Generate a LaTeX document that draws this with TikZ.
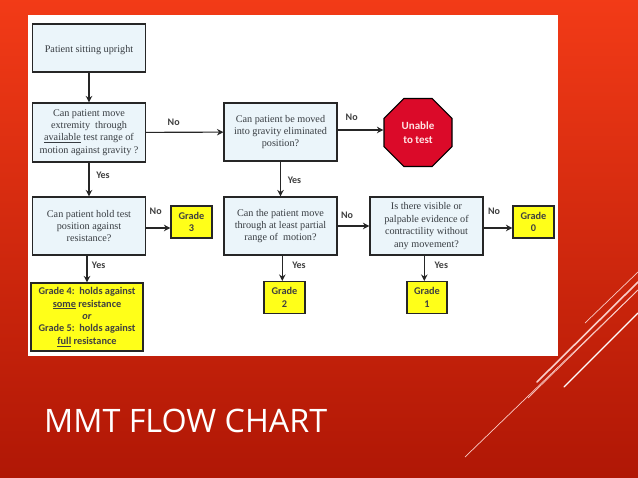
\documentclass[tikz,border=0pt]{standalone}
\usepackage{fontspec}
\setmainfont{Liberation Serif}
\newfontfamily\labelfont{Carlito}
\newfontfamily\titlefont{Open Sans}
\usetikzlibrary{arrows.meta,shapes.geometric}
\definecolor{BgHighClr}{rgb}{0.95,0.23,0.09}
\definecolor{BgMidClr}{rgb}{0.80,0.13,0.05}
\definecolor{BgLowClr}{rgb}{0.69,0.09,0.02}
\definecolor{BoxClr}{rgb}{0.92,0.96,0.98}
\definecolor{GradeClr}{rgb}{1,1,0.10}
\definecolor{StopClr}{rgb}{0.86,0.04,0.16}
\definecolor{TextClr}{rgb}{0.22,0.24,0.26}
\definecolor{LineClr}{rgb}{0.15,0.15,0.15}
\definecolor{SlashClr}{rgb}{0.98,0.80,0.78}
\tikzset{
  qbox/.style={draw=LineClr,line width=1.1pt,fill=BoxClr,align=center,text=TextClr,
    font=\fontsize{10.2}{12.4}\selectfont,inner sep=0pt,minimum width=113pt,
    execute at begin node={\rule{0pt}{12pt}}},
  gradebox/.style={draw=LineClr,line width=1.1pt,fill=GradeClr,align=center,text=black!75,
    font=\labelfont\bfseries\fontsize{10.3}{12.4}\selectfont,inner sep=0pt},
  flowlabel/.style={text=black!75,font=\labelfont\bfseries\fontsize{10}{11}\selectfont,inner sep=0pt},
  flow/.style={draw=LineClr,line width=1.1pt,-{Stealth[length=6.5pt,width=6.5pt]}},
  slash/.style={draw=SlashClr,line cap=round}
}

\begin{document}
\begin{tikzpicture}[x=1pt,y=-1pt]
\useasboundingbox (0,0) rectangle (638,478);
\shade[top color=BgHighClr,middle color=BgMidClr,bottom color=BgLowClr] (0,0) rectangle (638,478);
\fill[white] (28,15) rectangle (558,356);

\node[qbox,minimum height=48pt] (start) at (89,48) {Patient sitting upright};
\node[qbox,minimum height=59pt] (movebox) at (89,132.5) {Can patient move\\extremity\ \ through\\\underline{available} test range of\\motion against gravity ?};
\node[qbox,minimum height=58pt] (holdbox) at (89,226) {Can patient hold test\\position against\\resistance?};
\node[qbox,minimum height=58pt] (gravbox) at (280.5,132) {Can patient be moved\\into gravity eliminated\\position?};
\node[qbox,minimum height=58pt] (partbox) at (280.5,226) {Can the patient move\\through at least partial\\range of\ \ motion?};
\node[qbox,minimum height=58pt] (palpbox) at (426.5,226) {Is there visible or\\palpable evidence of\\contractility without\\any movement?};

\node[gradebox,minimum width=112pt,minimum height=68pt] (gradetop) at (87,317) {Grade 4:\ \ holds against\\\underline{some} resistance\\\textit{or}\\Grade 5:\ \ holds against\\\underline{full} resistance};
\node[gradebox,minimum width=41pt,minimum height=32pt] (gradethree) at (191.5,222) {Grade\\3};
\node[gradebox,minimum width=41pt,minimum height=32pt] (gradetwo) at (284.5,297.5) {Grade\\2};
\node[gradebox,minimum width=40pt,minimum height=32pt] (gradeone) at (427,297.5) {Grade\\1};
\node[gradebox,minimum width=41pt,minimum height=32pt] (gradezero) at (533.5,222) {Grade\\0};
\node[regular polygon,regular polygon sides=8,minimum size=73.6pt,
  draw=black,line width=1.1pt,fill=StopClr,text=white!90!red,align=center,inner sep=0pt,
  font=\labelfont\bfseries\fontsize{11}{14.5}\selectfont] (stopsign) at (418,132.5) {Unable\\to test};

\draw[flow] (start) -- (movebox);
\draw[flow] (movebox) -- (holdbox);
\draw[flow] (movebox) -- (gravbox);
\draw[flow] ([yshift=-2pt]holdbox.east) -- ([yshift=-2pt]holdbox.east -| gradethree.west);
\draw[flow] (holdbox.south -| gradetop.north) -- (gradetop.north);
\draw[flow] ([yshift=2pt]gravbox.east) -- ([yshift=2pt]gravbox.east -| stopsign.west);
\draw[flow] (gravbox) -- (partbox);
\draw[flow] (partbox) -- (palpbox);
\draw[flow] ([xshift=1.8pt]partbox.south) -- ([xshift=-2.2pt]gradetwo.north);
\draw[flow] ([yshift=-2pt]palpbox.east) -- ([yshift=-2pt]palpbox.east -| gradezero.west);
\draw[flow] ([xshift=-2.2pt]palpbox.south) -- ([xshift=-2.7pt]gradeone.north);

\node[flowlabel] (nomove) at (173.7,122) {No};
\node[flowlabel] (yesmove) at (103,175.5) {Yes};
\node[flowlabel] (nohold) at (155.7,211) {No};
\node[flowlabel] (yeshold) at (98.7,265.7) {Yes};
\node[flowlabel] (nograv) at (351.7,117.3) {No};
\node[flowlabel] (yesgrav) at (294.5,180) {Yes};
\node[flowlabel] (nopart) at (347,215.7) {No};
\node[flowlabel] (yespart) at (299,265) {Yes};
\node[flowlabel] (nopalp) at (494,211.3) {No};
\node[flowlabel] (yespalp) at (441.3,265) {Yes};

\node[anchor=base west,inner sep=0pt,text=white,font=\titlefont\fontsize{32.3}{34}\selectfont] (title) at (44,433) {MMT FLOW CHART};

\draw[slash,line width=.7pt] (465,457) -- (638,290);
\draw[slash,line width=.7pt] (528,398) -- (638,290);
\draw[slash,line width=.7pt] (585,323) -- (638,272);
\draw[slash,line width=1.6pt] (537,382) -- (638,282);
\draw[slash,line width=1.4pt,draw=white] (564,387) -- (638,313);
\end{tikzpicture}
\end{document}
